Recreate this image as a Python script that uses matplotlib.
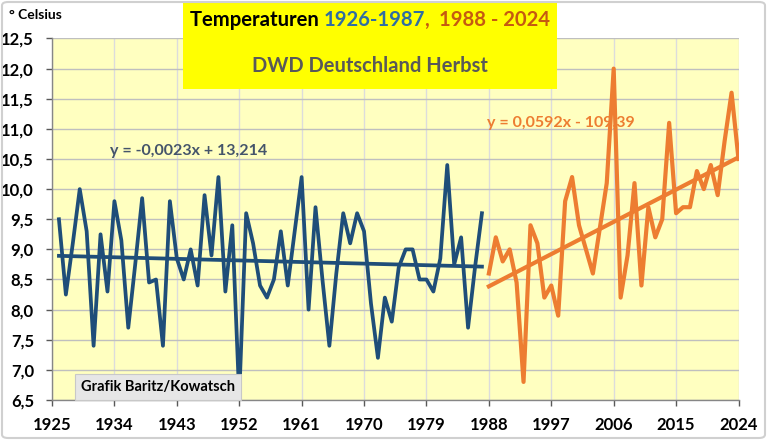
import matplotlib
matplotlib.use('Agg')
import matplotlib.pyplot as plt
import matplotlib.patches as mpatches
import numpy as np

# ---- data ----
years_old = list(range(1926, 1988))
temp_old = [9.5, 8.25, 9.1, 10.0, 9.3, 7.4, 9.25, 8.3, 9.8, 9.15,
            7.7, 8.75, 9.85, 8.45, 8.5, 7.4, 9.8, 8.85, 8.5, 9.0,
            8.4, 9.9, 8.9, 10.2, 8.3, 9.4, 6.55, 9.6, 9.1, 8.4,
            8.2, 8.5, 9.3, 8.4, 9.3, 10.2, 8.0, 9.7, 8.5, 7.4,
            8.6, 9.6, 9.1, 9.6, 9.3, 8.1, 7.2, 8.2, 7.8, 8.7,
            9.0, 9.0, 8.5, 8.5, 8.3, 8.85, 10.4, 8.75, 9.2, 7.7,
            8.7, 9.6]
years_new = list(range(1988, 2025))
temp_new = [8.6, 9.2, 8.8, 9.0, 8.45, 6.8, 9.4, 9.1, 8.2, 8.4,
            7.9, 9.8, 10.2, 9.4, 9.0, 8.6, 9.35, 10.1, 12.0, 8.2,
            8.9, 10.1, 8.4, 9.7, 9.2, 9.5, 11.1, 9.6, 9.7, 9.7,
            10.3, 10.0, 10.4, 9.9, 10.8, 11.6, 10.5]
x_ticks = list(range(1925, 2025, 9))
y_ticks = np.arange(6.5, 12.51, 0.5)
eq_old = "y = -0,0023x + 13,214"
eq_new = "y = 0,0592x - 109,39"

BLUE = '#1F4E79'
ORANGE = '#ED7D31'

plt.rcParams['font.family'] = ['Lato', 'DejaVu Sans']

W, H = 767, 440
fig = plt.figure(figsize=(W / 100, H / 100), dpi=100)

# outer frame
frame = mpatches.FancyBboxPatch((2 / W, 2 / H), 1 - 4 / W, 1 - 4 / H,
                                boxstyle='round,pad=0,rounding_size=0.008',
                                transform=fig.transFigure, fc='none',
                                ec='#D0D0D0', lw=1.5, zorder=10)
fig.patches.append(frame)

left, right, top, bottom = 52, 738.5, 38.5, 400
ax = fig.add_axes([left / W, 1 - bottom / H, (right - left) / W, (bottom - top) / H])
ax.set_facecolor('#FFFFC0')

ax.plot(years_old, temp_old, color=BLUE, lw=2.7, zorder=4)
ax.plot(years_new, temp_new, color=ORANGE, lw=3.0, zorder=4)

# linear trends
k1, d1 = np.polyfit(years_old, temp_old, 1)
k2, d2 = np.polyfit(years_new, temp_new, 1)
xo = np.array([years_old[0], years_old[-1]])
xn = np.array([years_new[0], years_new[-1]])
ax.plot(xo, k1 * xo + d1, color=BLUE, lw=2.7, zorder=4)
ax.plot(xn, k2 * xn + d2, color=ORANGE, lw=3.0, zorder=4)

ax.set_xlim(1925, 2024)
ax.set_ylim(6.5, 12.5)
ax.set_xticks(x_ticks)
ax.set_yticks(y_ticks)
ax.set_yticklabels([f"{v:.1f}".replace('.', ',') for v in y_ticks])
ax.grid(axis='y', color='#BFBFBF', lw=1.0, zorder=1)
ax.grid(axis='x', color='#DCDCDC', lw=1.0, zorder=1)
ax.set_axisbelow(True)
for s in ['top', 'right']:
    ax.spines[s].set_visible(False)
for s in ['left', 'bottom']:
    ax.spines[s].set_color('#868686')
    ax.spines[s].set_linewidth(1.0)
ax.tick_params(axis='y', direction='out', length=4, width=1, color='#595959', pad=9,
               labelsize=12)
ax.tick_params(axis='x', direction='out', length=4, width=1, color='#595959', pad=8,
               labelsize=12)
for lab in ax.get_xticklabels() + ax.get_yticklabels():
    lab.set_fontweight('bold')

# trend equations
fig.text(110 / W, 1 - 151 / H, eq_old, color='#44546A',
         fontsize=11.5, fontweight='bold', va='center', ha='left', zorder=3)
fig.text(487 / W, 1 - 123 / H, eq_new, color=ORANGE,
         fontsize=11.5, fontweight='bold', va='center', ha='left', zorder=3)

# credit box
fig.text(158 / W, 1 - 387 / H, "Grafik Baritz/Kowatsch", fontsize=10.5, fontweight='bold',
         ha='center', va='center', color='black', zorder=6,
         bbox=dict(boxstyle='square,pad=0.4', fc='#E6E6E6', ec='#C8C8C8', lw=0.8))

# unit label
fig.text(9 / W, 1 - 15 / H, "° Celsius", fontsize=10, fontweight='bold',
         ha='left', va='center')

# title box
tb = mpatches.Rectangle((183 / W, 1 - 89 / H), (557 - 183) / W, (89 - 2) / H,
                        transform=fig.transFigure, fc='#FFFF00', ec='none', zorder=5)
fig.patches.append(tb)

pieces = [("Temperaturen ", 'black'), ("1926-1987", '#2E6DA4'),
          (",  ", '#C55A11'), ("1988 - 2024", '#C55A11')]
texts = []
for s, c in pieces:
    texts.append(fig.text(0, 1 - 20 / H, s, fontsize=17, fontweight='bold', color=c,
                          ha='left', va='center', zorder=6))
fig.canvas.draw()
r = fig.canvas.get_renderer()
widths = [t.get_window_extent(r).width for t in texts]
scale = 362 / sum(widths)
for t in texts:
    t.set_fontsize(17 * scale)
fig.canvas.draw()
widths = [t.get_window_extent(r).width for t in texts]
x0 = 370 - sum(widths) / 2
for t, w in zip(texts, widths):
    t.set_x(x0 / W)
    x0 += w
fig.text(370 / W, 1 - 66 / H, "DWD Deutschland Herbst", fontsize=14.5, fontweight='bold',
         color='#595959', ha='center', va='center', zorder=6)

fig.savefig('out.png', dpi=100)
